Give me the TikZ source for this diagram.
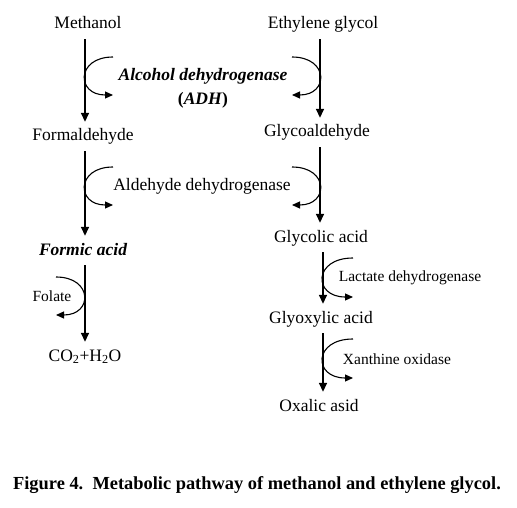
\documentclass[tikz,border=0pt]{standalone}
\usepackage{fontspec}
\setmainfont{Liberation Serif}
\usetikzlibrary{arrows.meta}

\begin{document}
\begin{tikzpicture}[x=1pt, y=-1pt,
    compound/.style={inner sep=3pt, text height=12pt, text depth=4pt, font=\fontsize{17.5}{20}\selectfont},
    enzyme/.style={inner sep=1pt, font=\fontsize{17.5}{20}\selectfont},
    cofactor/.style={inner sep=1pt, font=\fontsize{15.5}{18}\selectfont},
    main arrow/.style={line width=1.6pt, -{Triangle[length=9pt, width=8pt]}, shorten <=3pt, shorten >=4pt},
    side arrow/.style={line width=1.1pt, -{Triangle[length=8pt, width=7pt]}}]
    \useasboundingbox (0,0) rectangle (517,508);

    % Compounds of the methanol branch
    \node[compound] (Methanol) at (88,25) {Methanol};
    \node[compound] (Formaldehyde) at (83,137) {Formaldehyde};
    \node[compound, font=\fontsize{17.5}{20}\selectfont\bfseries\itshape] (Formic) at (83,251) {Formic acid};
    \node[compound] (Water) at (85,357) {CO\textsubscript{2}+H\textsubscript{2}O};

    % Compounds of the ethylene glycol branch
    \node[compound] (Ethylene) at (323,25) {Ethylene glycol};
    \node[compound] (Glycoaldehyde) at (317,133) {Glycoaldehyde};
    \node[compound] (Glycolic) at (321,238) {Glycolic acid};
    \node[compound] (Glyoxylic) at (321,319) {Glyoxylic acid};
    \node[compound] (Oxalic) at (319,407) {Oxalic asid};

    % Columns for the vertical arrows
    \coordinate (L) at (85,0);
    \coordinate (R) at (320,0);
    \coordinate (R2) at (323,0);

    \draw[main arrow] (L |- Methanol.south) -- (L |- Formaldehyde.north);
    \draw[main arrow] (L |- Formaldehyde.south) -- (L |- Formic.north);
    \draw[main arrow] (L |- Formic.south) -- (L |- Water.north);
    \draw[main arrow] (R |- Ethylene.south) -- (R |- Glycoaldehyde.north);
    \draw[main arrow] (R |- Glycoaldehyde.south) -- (R |- Glycolic.north);
    \draw[main arrow] (R2 |- Glycolic.south) -- (R2 |- Glyoxylic.north);
    \draw[main arrow] (R2 |- Glyoxylic.south) -- (R2 |- Oxalic.north);

    % Curved side arrows: name / x / top / bottom / bulge
    \foreach \n/\x/\ya/\yb/\d in {adhL/113/57/95/-37, adhR/292/57/95/37,
                                  aldL/113/167/205/-37, aldR/292/167/205/37,
                                  fol/56/277/315/37, lac/353/258/297/-40,
                                  xan/353/339/378/-40} {
        \coordinate (\n a) at (\x,\ya);
        \coordinate (\n b) at (\x,\yb);
        \draw[side arrow] (\n a) .. controls +(\d,0) and +(\d,0) .. (\n b);
    }

    % Enzymes
    \node[enzyme, font=\fontsize{17.5}{20}\selectfont\bfseries\itshape] (ADH) at (203,76) {Alcohol dehydrogenase};
    \node[enzyme, font=\fontsize{17.5}{20}\selectfont\bfseries] (ADHshort) at (203,100) {(\textit{ADH})};
    \node[enzyme] (ALDH) at (202,186) {Aldehyde dehydrogenase};
    \node[cofactor] (Folate) at (52,296) {Folate};
    \node[cofactor] (LDH) at (410,278) {Lactate dehydrogenase};
    \node[cofactor] (XO) at (397,359) {Xanthine oxidase};

    % Caption
    \node[font=\fontsize{18.4}{21}\selectfont\bfseries] (Caption) at (257,485) {Figure 4.\ \ Metabolic pathway of methanol and ethylene glycol.};
\end{tikzpicture}
\end{document}
